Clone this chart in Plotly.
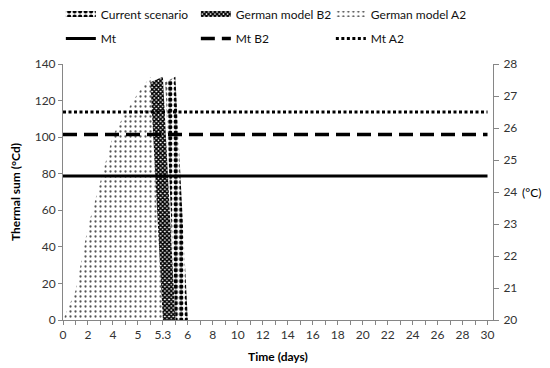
import plotly.graph_objects as go

# ---- data ----
# x axis is a category-like axis: one position per tick, labels on every other tick
tick_labels = ["0", "", "2", "", "4", "", "5", "", "5.3", "", "6", "", "8", "", "10", "",
               "12", "", "14", "", "16", "", "18", "", "20", "", "22", "", "24", "", "26", "",
               "28", "", "30"]
tick_pos = list(range(len(tick_labels)))

# thermal sum (°Cd) areas
a2_pos = [0, 1, 2, 3, 4, 5, 6, 7, 8]
a2_val = [0, 16, 51, 76, 101, 113, 124, 133, 0]

b2_pos = [7, 8, 9, 8]
b2_val = [130, 133, 0, 0]

cur_pos = [8.2, 9, 10, 9]
cur_val = [130, 133, 0, 0]

# temperature thresholds (°C)
mt_pos = [0, 34]
mt_val = [24.5, 24.5]
mt_b2_val = [25.8, 25.8]
mt_a2_val = [26.5, 26.5]

FONT = "Lato"
AXC = "#868686"

fig = go.Figure()

fig.add_trace(go.Scatter(
    x=a2_pos, y=a2_val, name="German model A2", mode="none", fill="tozeroy",
    fillcolor="white",
    fillpattern=dict(shape=".", fgcolor="#555555", bgcolor="white", size=5, solidity=0.16,
                     fgopacity=1, fillmode="replace"),
    legend="legend", legendrank=3, hoverinfo="skip"))

fig.add_trace(go.Scatter(
    x=cur_pos, y=cur_val, name="Current scenario", mode="none", fill="toself",
    fillcolor="white",
    fillpattern=dict(shape=".", fgcolor="black", bgcolor="white", size=5.5, solidity=0.5,
                     fgopacity=1, fillmode="replace"),
    legend="legend", legendrank=1, hoverinfo="skip"))

fig.add_trace(go.Scatter(
    x=b2_pos, y=b2_val, name="German model B2", mode="none", fill="toself",
    fillcolor="white",
    fillpattern=dict(shape="x", fgcolor="black", bgcolor="white", size=3, solidity=0.75,
                     fgopacity=1, fillmode="replace"),
    legend="legend", legendrank=2, hoverinfo="skip"))

fig.add_trace(go.Scatter(
    x=mt_pos, y=mt_val, name="Mt", mode="lines", yaxis="y2",
    line=dict(color="black", width=3), legend="legend2", legendrank=1))
fig.add_trace(go.Scatter(
    x=mt_pos, y=mt_b2_val, name="Mt B2", mode="lines", yaxis="y2",
    line=dict(color="black", width=3.5, dash="14px,7px"), legend="legend2", legendrank=2))
fig.add_trace(go.Scatter(
    x=mt_pos, y=mt_a2_val, name="Mt A2", mode="lines", yaxis="y2",
    line=dict(color="black", width=3, dash="3px,2.5px"), legend="legend2", legendrank=3))

fig.update_layout(
    width=542, height=360,
    margin=dict(l=55, r=57, t=56, b=48, autoexpand=False),
    paper_bgcolor="white", plot_bgcolor="white",
    font=dict(family=FONT, size=12, color="#222"),
    showlegend=True,
    legend=dict(orientation="h", x=-0.005, xanchor="left", y=1.195, yanchor="middle",
                entrywidth=90, font=dict(family=FONT, size=12, color="#111"),
                bgcolor="rgba(0,0,0,0)", traceorder="normal"),
    legend2=dict(orientation="h", x=-0.005, xanchor="left", y=1.10, yanchor="middle",
                 entrywidth=90, font=dict(family=FONT, size=12, color="#111"),
                 bgcolor="rgba(0,0,0,0)", traceorder="normal"),
    xaxis=dict(range=[0, 34.44], tickmode="array", tickvals=tick_pos, ticktext=tick_labels,
               showline=True, linecolor=AXC, linewidth=1, ticks="outside", ticklen=4,
               tickcolor=AXC, showgrid=False, zeroline=False,
               tickfont=dict(family=FONT, size=12, color="#333"),
               title=dict(text="<b>Time (days)</b>", font=dict(family=FONT, size=12, color="black"),
                          standoff=11)),
    yaxis=dict(range=[0, 140], dtick=20, showline=True, linecolor=AXC, linewidth=1,
               ticks="outside", ticklen=4, tickcolor=AXC, showgrid=False, zeroline=False,
               tickfont=dict(family=FONT, size=12, color="#333"),
               title=dict(text="<b>Thermal sum (°Cd)</b>",
                          font=dict(family=FONT, size=12, color="black"), standoff=14)),
    yaxis2=dict(range=[20, 28], dtick=1, overlaying="y", side="right", showline=True,
                linecolor=AXC, linewidth=1, ticks="outside", ticklen=5, tickcolor=AXC,
                showgrid=False, zeroline=False, ticklabelstandoff=2,
                tickfont=dict(family=FONT, size=12, color="#333")),
    annotations=[dict(text="(°C)", xref="paper", yref="y2", x=1.089, y=24,
                      xanchor="center", yanchor="middle", showarrow=False,
                      font=dict(family=FONT, size=12, color="black"))],
)

fig.write_html("out.html")
